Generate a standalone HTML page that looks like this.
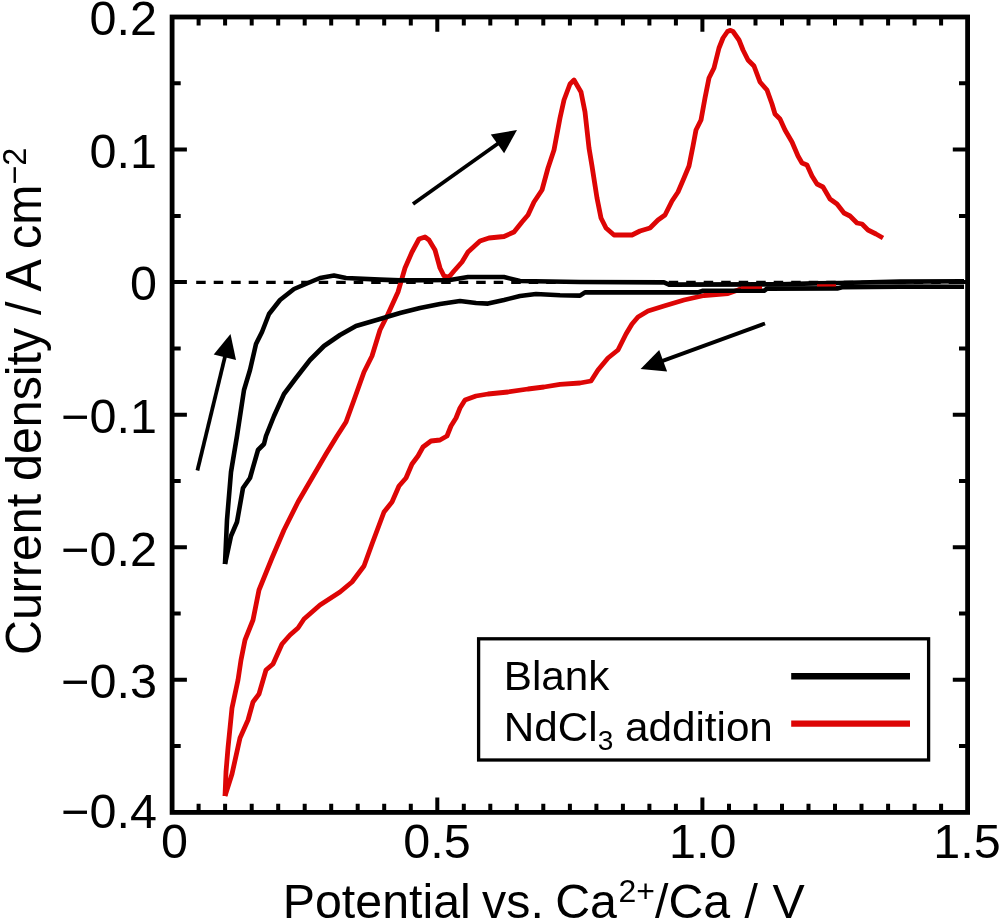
<!DOCTYPE html>
<html lang="en"><head><meta charset="utf-8"><title>Cyclic voltammogram</title>
<style>
html,body{margin:0;padding:0;background:#fff;}
body{width:1000px;height:922px;overflow:hidden;}
svg{display:block;}
text{font-family:"Liberation Sans",sans-serif;fill:#000;}
</style></head><body>
<svg width="1000" height="922" viewBox="0 0 1000 922">
<rect width="1000" height="922" fill="#fff"/>
<line x1="196.2" y1="282.4" x2="967.6" y2="282.4" stroke="#000" stroke-width="3.4" stroke-dasharray="9.5 8"/>
<polyline points="225.0,796.0 232.0,774.0 240.0,738.0 248.0,720.0 253.0,702.0 259.0,694.0 266.0,670.0 273.0,664.0 282.0,644.0 290.0,635.0 298.0,628.0 304.0,619.0 320.0,605.0 340.0,592.0 352.0,582.0 364.0,566.0 372.0,544.0 384.0,512.0 392.0,502.0 399.0,486.0 406.0,478.0 412.0,464.0 418.0,456.0 423.0,447.0 431.0,441.0 440.0,440.0 447.0,436.0 451.0,426.0 456.0,418.0 460.0,408.0 465.0,400.0 476.0,396.0 488.0,394.0 508.0,392.0 528.0,389.0 544.0,387.0 560.0,384.4 580.0,383.0 591.0,381.0 598.0,370.0 608.0,358.0 618.0,350.0 622.0,342.0 626.0,334.0 632.0,324.0 638.0,317.0 648.0,311.0 664.0,306.0 684.0,300.0 704.0,295.5 728.0,293.5 738.0,290.0 744.0,287.6 762.0,287.4" fill="none" stroke="#dd0505" stroke-width="4.8" stroke-linejoin="round" stroke-linecap="butt"/>
<polyline points="225.0,796.0 226.0,772.0 228.0,748.0 230.0,728.0 232.0,708.0 235.0,694.0 238.0,680.0 241.0,660.0 245.0,640.0 253.0,620.0 259.0,590.0 272.0,558.0 284.0,530.0 298.0,502.0 312.0,478.0 326.0,454.0 337.0,436.0 346.0,422.0 354.0,400.0 364.0,372.0 372.0,356.0 380.0,330.0 388.0,314.0 398.0,292.0 405.0,268.0 412.0,252.0 419.0,239.0 425.0,237.0 429.0,240.0 435.0,250.0 440.0,268.0 444.0,276.0 449.0,277.0 454.0,271.0 462.0,262.0 468.0,252.0 480.0,241.0 489.0,238.0 504.0,236.5 514.0,232.0 522.0,222.0 528.0,215.0 534.0,202.0 542.0,190.0 548.0,168.0 554.0,150.0 560.0,118.0 564.0,100.0 570.0,84.0 574.0,80.0 581.0,92.0 585.0,112.0 589.0,148.0 592.0,166.0 597.0,198.0 601.0,218.0 606.0,228.0 614.0,235.0 632.0,235.0 640.0,231.0 650.0,228.0 658.0,220.0 665.0,215.0 672.0,201.0 678.0,192.0 684.0,178.0 689.0,166.0 693.0,146.0 696.0,130.0 701.0,120.0 705.0,98.0 709.0,78.0 714.0,68.0 719.0,48.0 723.0,38.0 727.5,31.5 730.0,30.3 733.0,31.5 739.0,40.0 743.0,50.0 748.0,60.0 754.0,66.0 760.0,82.0 767.0,90.0 772.0,104.0 775.0,114.0 780.0,119.0 785.0,130.0 792.0,142.0 798.0,156.0 802.0,163.0 807.0,165.0 812.0,176.0 817.0,184.0 823.0,187.0 830.0,199.0 837.0,204.0 844.0,213.0 850.0,216.0 857.0,223.0 862.0,224.0 868.0,230.0 876.0,234.0 883.0,238.0" fill="none" stroke="#dd0505" stroke-width="4.8" stroke-linejoin="round" stroke-linecap="butt"/>
<polyline points="225.0,564.0 231.0,536.0 237.0,522.0 243.0,488.0 250.0,478.0 258.0,450.0 264.0,444.0 266.0,436.0 274.0,416.0 284.0,394.0 296.0,378.0 310.0,360.0 324.0,346.0 340.0,335.0 356.0,326.0 380.0,319.0 400.0,313.0 420.0,308.0 440.0,304.0 460.0,301.0 476.0,303.0 488.0,303.6 504.0,300.0 520.0,296.0 536.0,294.0 560.0,295.2 580.0,295.6 585.0,292.4 698.0,292.4 703.0,290.8 764.0,290.8 767.0,288.6 838.0,288.4 842.0,287.2 900.0,286.6 964.0,286.8" fill="none" stroke="#000" stroke-width="4.6" stroke-linejoin="round" stroke-linecap="butt"/>
<polyline points="225.0,564.0 227.0,520.0 229.0,496.0 231.0,472.0 237.0,436.0 244.0,390.0 250.0,370.0 256.0,344.0 262.0,332.0 269.0,314.0 280.0,300.0 294.0,289.0 308.0,283.0 320.0,278.0 334.0,275.6 346.0,278.0 380.0,279.6 400.0,280.4 450.0,280.0 468.0,277.0 504.0,277.0 520.0,281.0 580.0,282.0 664.0,282.4 669.0,284.6 780.0,284.3 815.0,283.4 840.0,283.0 900.0,281.6 964.0,281.2" fill="none" stroke="#000" stroke-width="4.6" stroke-linejoin="round" stroke-linecap="butt"/>
<path d="M741,287.6H762M817,285.3H836" stroke="#dd0505" stroke-width="2.2" fill="none"/>
<rect x="172.1" y="17.0" width="795.5" height="795.4" fill="none" stroke="#000" stroke-width="4.8"/>
<path d="M198.6,812.4v-8.6 M198.6,17.0v8.6 M225.1,812.4v-8.6 M225.1,17.0v8.6 M251.7,812.4v-8.6 M251.7,17.0v8.6 M278.2,812.4v-8.6 M278.2,17.0v8.6 M304.7,812.4v-8.6 M304.7,17.0v8.6 M331.2,812.4v-8.6 M331.2,17.0v8.6 M357.7,812.4v-8.6 M357.7,17.0v8.6 M384.2,812.4v-8.6 M384.2,17.0v8.6 M410.8,812.4v-8.6 M410.8,17.0v8.6 M437.3,812.4v-14.8 M437.3,17.0v14.8 M463.8,812.4v-8.6 M463.8,17.0v8.6 M490.3,812.4v-8.6 M490.3,17.0v8.6 M516.8,812.4v-8.6 M516.8,17.0v8.6 M543.3,812.4v-8.6 M543.3,17.0v8.6 M569.9,812.4v-8.6 M569.9,17.0v8.6 M596.4,812.4v-8.6 M596.4,17.0v8.6 M622.9,812.4v-8.6 M622.9,17.0v8.6 M649.4,812.4v-8.6 M649.4,17.0v8.6 M675.9,812.4v-8.6 M675.9,17.0v8.6 M702.4,812.4v-14.8 M702.4,17.0v14.8 M729.0,812.4v-8.6 M729.0,17.0v8.6 M755.5,812.4v-8.6 M755.5,17.0v8.6 M782.0,812.4v-8.6 M782.0,17.0v8.6 M808.5,812.4v-8.6 M808.5,17.0v8.6 M835.0,812.4v-8.6 M835.0,17.0v8.6 M861.5,812.4v-8.6 M861.5,17.0v8.6 M888.1,812.4v-8.6 M888.1,17.0v8.6 M914.6,812.4v-8.6 M914.6,17.0v8.6 M941.1,812.4v-8.6 M941.1,17.0v8.6 M172.1,83.3h8.6 M967.6,83.3h-8.6 M172.1,149.6h14.8 M967.6,149.6h-14.8 M172.1,215.9h8.6 M967.6,215.9h-8.6 M172.1,282.1h14.8 M967.6,282.1h-14.8 M172.1,348.4h8.6 M967.6,348.4h-8.6 M172.1,414.7h14.8 M967.6,414.7h-14.8 M172.1,481.0h8.6 M967.6,481.0h-8.6 M172.1,547.3h14.8 M967.6,547.3h-14.8 M172.1,613.5h8.6 M967.6,613.5h-8.6 M172.1,679.8h14.8 M967.6,679.8h-14.8 M172.1,746.1h8.6 M967.6,746.1h-8.6" stroke="#000" stroke-width="4.0" fill="none"/>
<text transform="translate(157,35.2) scale(1.023,1)" font-size="47.4" text-anchor="end">0.2</text>
<text transform="translate(157,167.8) scale(1.023,1)" font-size="47.4" text-anchor="end">0.1</text>
<text transform="translate(157,300.3) scale(1.023,1)" font-size="47.4" text-anchor="end">0</text>
<text transform="translate(157,432.9) scale(1.023,1)" font-size="47.4" text-anchor="end">−0.1</text>
<text transform="translate(157,565.5) scale(1.023,1)" font-size="47.4" text-anchor="end">−0.2</text>
<text transform="translate(157,698.0) scale(1.023,1)" font-size="47.4" text-anchor="end">−0.3</text>
<text transform="translate(157,827.5) scale(1.023,1)" font-size="47.4" text-anchor="end">−0.4</text>
<text transform="translate(174.5,857.5) scale(1.023,1)" font-size="47.4" text-anchor="middle">0</text>
<text transform="translate(437,857.5) scale(1.023,1)" font-size="47.4" text-anchor="middle">0.5</text>
<text transform="translate(702.7,857.5) scale(1.023,1)" font-size="47.4" text-anchor="middle">1.0</text>
<text transform="translate(967,857.5) scale(1.023,1)" font-size="47.4" text-anchor="middle">1.5</text>
<text transform="translate(282.8,917.6) scale(1.019,1)" font-size="47.4" text-anchor="start" word-spacing="-2">Potential vs. Ca<tspan x="329.5" font-size="31.4" dy="-15.6" word-spacing="0">2+</tspan><tspan x="365.3" dy="15.6" word-spacing="1">/Ca / V</tspan></text>
<text transform="translate(40.6,655) rotate(-90) scale(0.997,1.04)" font-size="48.5" word-spacing="-0.6">Current density / A cm<tspan font-size="32.5" dy="-14">−2</tspan></text>
<rect x="478.6" y="638.8" width="450" height="121.2" fill="#fff" stroke="#000" stroke-width="3.3"/>
<text transform="translate(503.8,689.5) scale(1.03,1)" font-size="41" text-anchor="start">Blank</text>
<text transform="translate(503.8,740.5) scale(1.03,1)" font-size="41" text-anchor="start">NdCl<tspan font-size="27.2" dy="9">3</tspan><tspan dy="-9"> addition</tspan></text>
<line x1="791.2" y1="676.3" x2="910" y2="676.3" stroke="#000" stroke-width="6.4"/>
<line x1="791.2" y1="723.6" x2="910" y2="723.6" stroke="#dd0505" stroke-width="6.4"/>
<line x1="197.4" y1="470.5" x2="225.3" y2="355.4" stroke="#000" stroke-width="3.8"/><polygon points="230.5,334.0 236.0,360.0 213.7,354.6" fill="#000"/>
<line x1="413" y1="204" x2="499.1" y2="142.8" stroke="#000" stroke-width="3.8"/><polygon points="517.0,130.0 504.1,153.3 490.8,134.5" fill="#000"/>
<line x1="765" y1="323.5" x2="661.3" y2="361.4" stroke="#000" stroke-width="3.8"/><polygon points="640.6,369.0 659.2,350.0 667.1,371.6" fill="#000"/>
</svg></body></html>
